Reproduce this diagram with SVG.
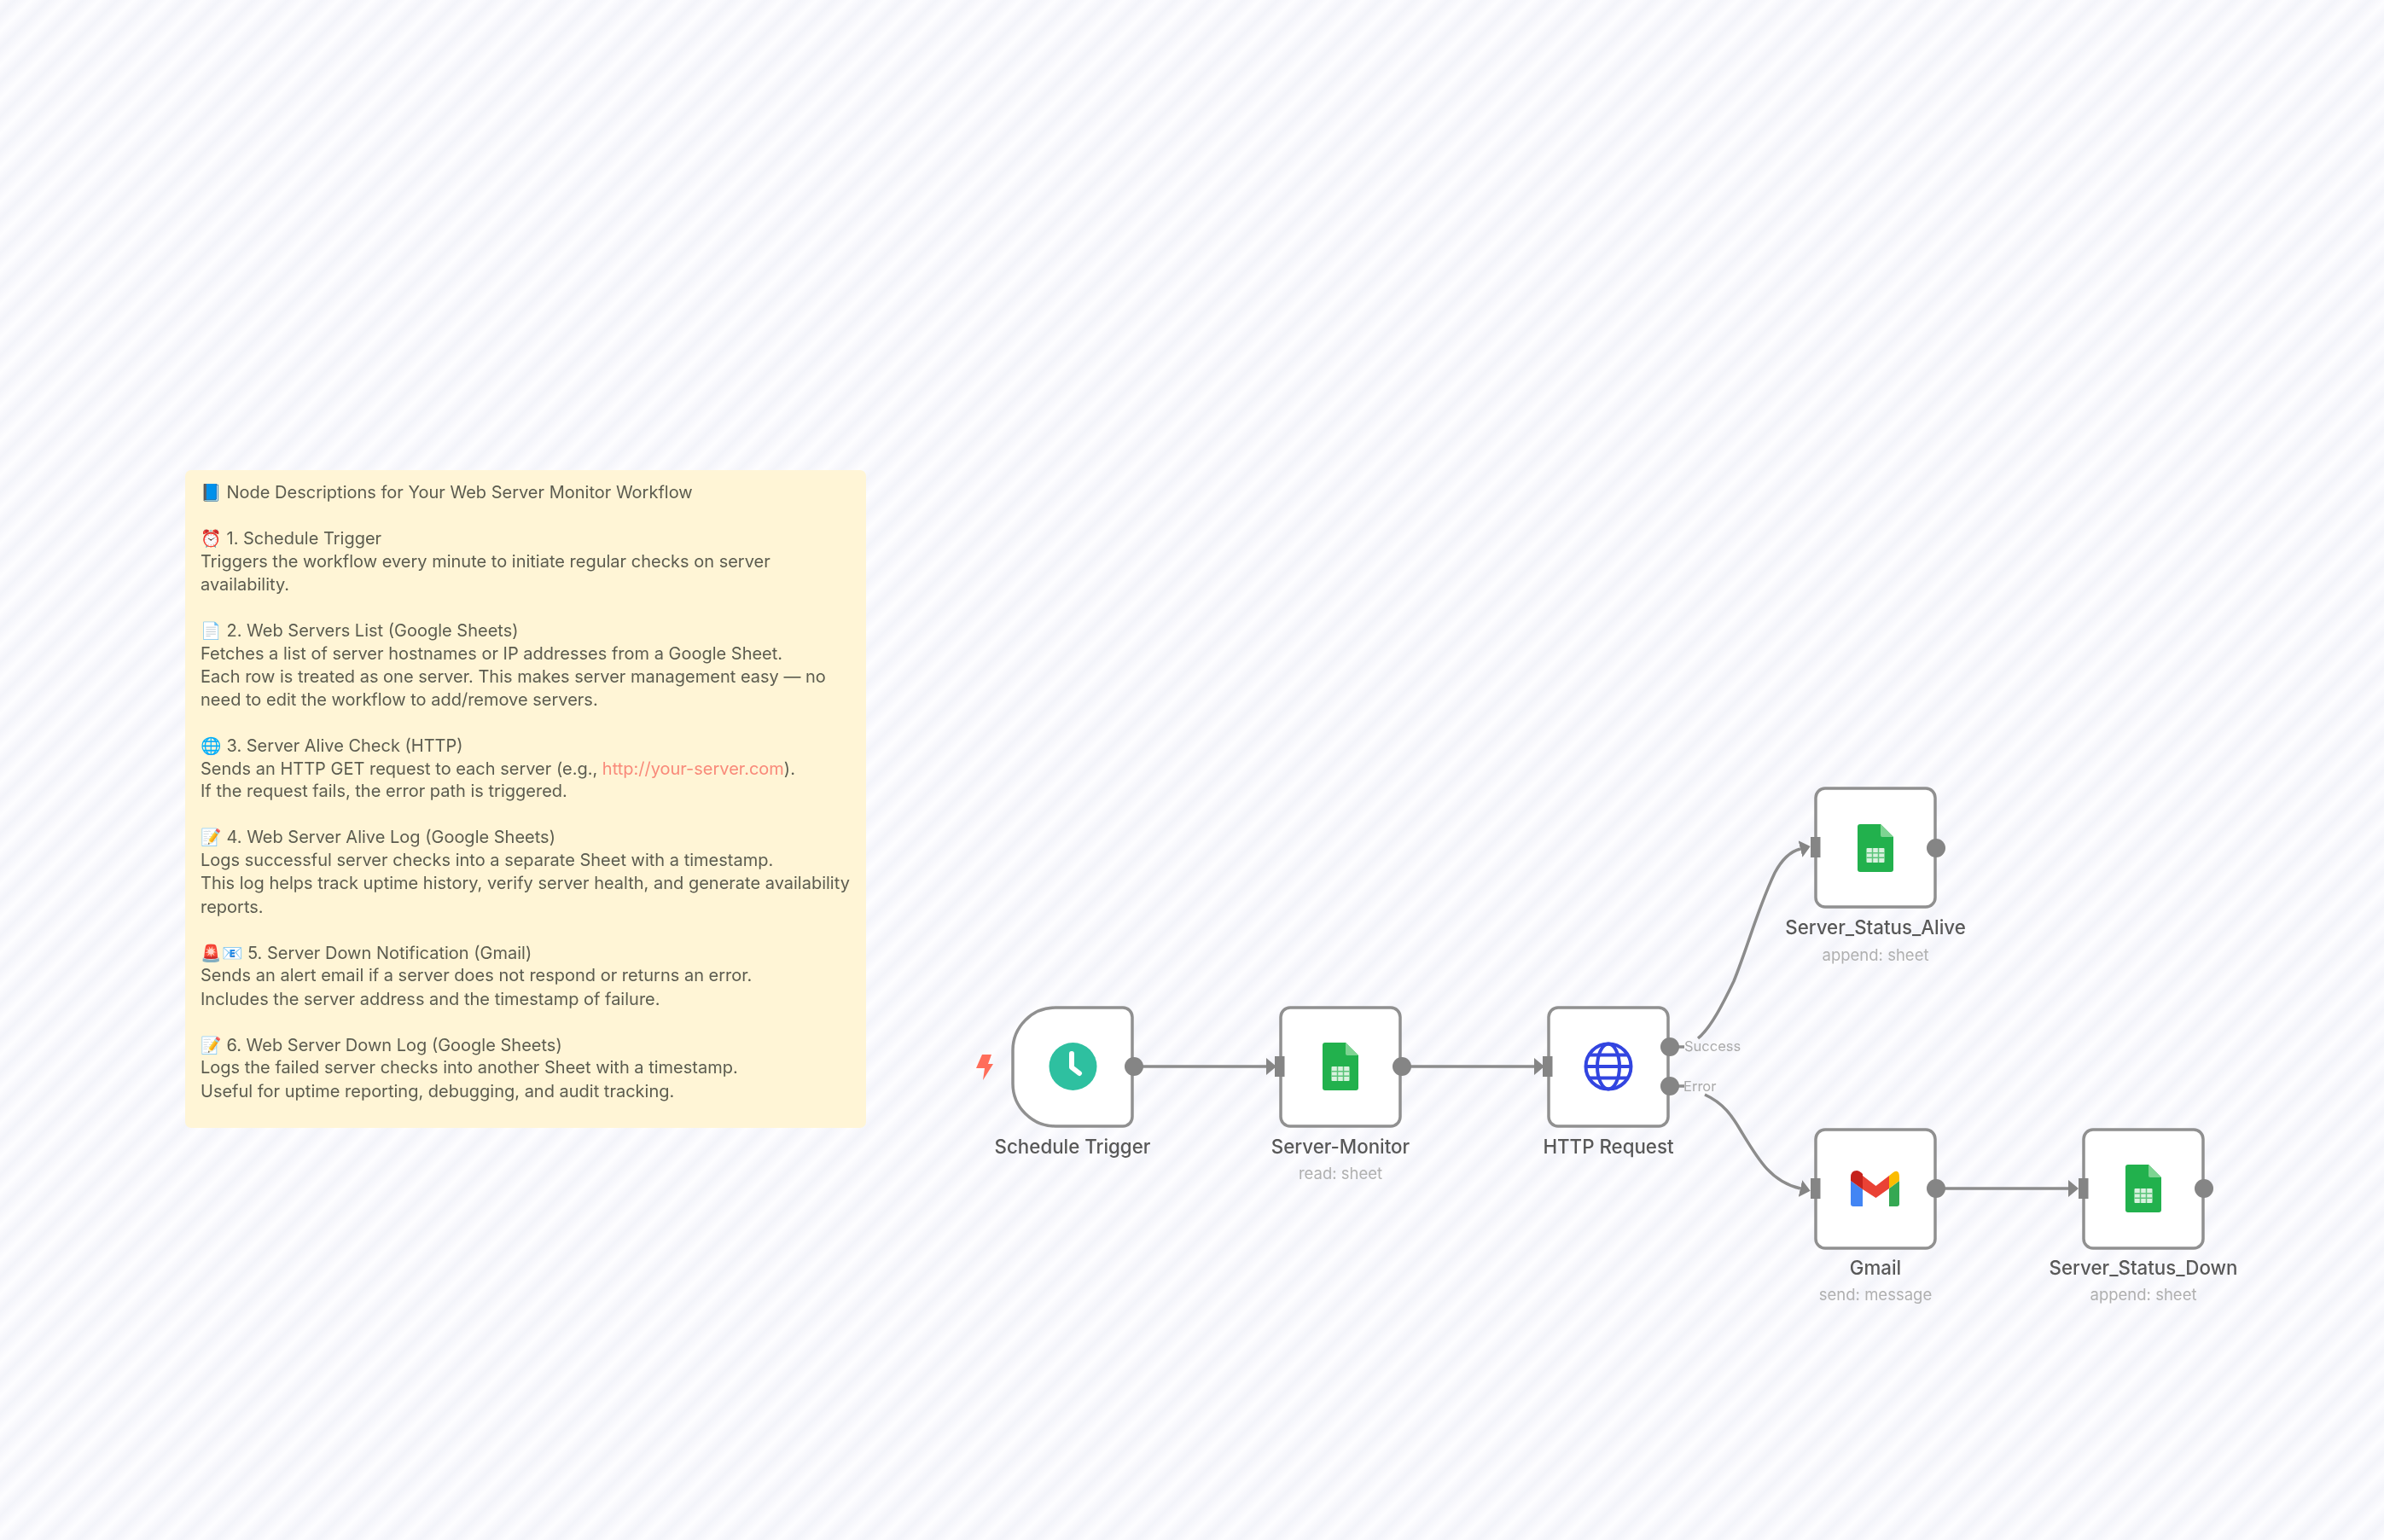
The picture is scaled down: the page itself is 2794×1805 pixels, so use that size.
<svg xmlns="http://www.w3.org/2000/svg" width="2794" height="1805" viewBox="0 0 2794 1805">
<style>
text{font-family:Inter,"Liberation Sans",sans-serif}
.n{font-size:20px;fill:#5c5c50}
.e{font-size:19.6px;font-family:"Noto Color Emoji","DejaVu Sans",sans-serif}
.t{font-size:22.300px;font-weight:500;fill:#585858;text-anchor:middle}
.s{font-size:18.500px;fill:#b0b0b0;text-anchor:middle}
.b{fill:#fff;stroke:#909090;stroke-width:3.500}
.p{fill:#858585}
.c{fill:none;stroke:#8c8c8c;stroke-width:3.500}
.l{font-size:16.500px;fill:#aaa}
.g{fill:#23b14d}
</style>
<defs>
<linearGradient id="st" gradientUnits="userSpaceOnUse" x1="0" y1="17" x2="20" y2="37" spreadMethod="repeat">
<stop offset="0" stop-color="#f3f4fa"/><stop offset=".5" stop-color="#fdfdff"/><stop offset="1" stop-color="#f3f4fa"/>
</linearGradient>
<filter id="soft" filterUnits="userSpaceOnUse" x="0" y="0" width="2794" height="1805"><feGaussianBlur stdDeviation="0.700"/></filter>
<marker id="a" markerUnits="userSpaceOnUse" markerWidth="14" markerHeight="22" refX="0" refY="11" orient="auto"><path d="M0 1L12 11L0 21Z" fill="#858585"/></marker>
<g id="sheet">
<path class="g" d="M3 0H27L42 15V53a3 3 0 0 1-3 3H3a3 3 0 0 1-3-3V3a3 3 0 0 1 3-3Z"/>
<path d="M27 0L42 15H29a2 2 0 0 1-2-2Z" fill="#7ed492"/>
<rect x="10.500" y="28" width="21" height="17" rx="1" fill="#d8f2de"/>
<path d="M10.500 33.700H31.500M10.500 39.300H31.500M17.500 28V45M24.500 28V45" stroke="#5cc47a" stroke-width="1.500" fill="none"/>
</g>
</defs>
<rect width="2794" height="1805" fill="url(#st)"/>
<g filter="url(#soft)">
<g id="note">
<rect x="217" y="551" width="798" height="771" rx="7" fill="#fff5d6"/>
<text class="e" x="235" y="584">📘</text><text class="n" x="265.500" y="584">Node Descriptions for Your Web Server Monitor Workflow</text>
<text class="e" x="235" y="638">⏰</text><text class="n" x="265.500" y="638">1. Schedule Trigger</text>
<text class="n" x="235" y="665">Triggers the workflow every minute to initiate regular checks on server</text>
<text class="n" x="235" y="692">availability.</text>
<text class="e" x="235" y="746">📄</text><text class="n" x="265.500" y="746">2. Web Servers List (Google Sheets)</text>
<text class="n" x="235" y="773">Fetches a list of server hostnames or IP addresses from a Google Sheet.</text>
<text class="n" x="235" y="800">Each row is treated as one server. This makes server management easy — no</text>
<text class="n" x="235" y="827">need to edit the workflow to add/remove servers.</text>
<text class="e" x="235" y="881">🌐</text><text class="n" x="265.500" y="881">3. Server Alive Check (HTTP)</text>
<text class="n" x="235" y="908">Sends an HTTP GET request to each server (e.g., <tspan fill="#f98a7a">http://your-server.com</tspan>).</text>
<text class="n" x="235" y="934">If the request fails, the error path is triggered.</text>
<text class="e" x="235" y="988">📝</text><text class="n" x="265.500" y="988">4. Web Server Alive Log (Google Sheets)</text>
<text class="n" x="235" y="1015">Logs successful server checks into a separate Sheet with a timestamp.</text>
<text class="n" x="235" y="1042">This log helps track uptime history, verify server health, and generate availability</text>
<text class="n" x="235" y="1070">reports.</text>
<text class="e" x="235" y="1124">🚨</text><text class="e" x="260" y="1124">📧</text><text class="n" x="290" y="1124">5. Server Down Notification (Gmail)</text>
<text class="n" x="235" y="1150">Sends an alert email if a server does not respond or returns an error.</text>
<text class="n" x="235" y="1178">Includes the server address and the timestamp of failure.</text>
<text class="e" x="235" y="1232">📝</text><text class="n" x="265.500" y="1232">6. Web Server Down Log (Google Sheets)</text>
<text class="n" x="235" y="1258">Logs the failed server checks into another Sheet with a timestamp.</text>
<text class="n" x="235" y="1286">Useful for uptime reporting, debugging, and audit tracking.</text>
</g>
<g id="connectors">
<path class="c" d="M1329 1250H1484" marker-end="url(#a)"/>
<path class="c" d="M1643 1250H1798" marker-end="url(#a)"/>
<path class="c" d="M1966 1227H1974M1990 1217C2005 1205 2020 1175 2032 1150C2050 1105 2060 1065 2080 1023C2088 1008 2098 998 2110 995" marker-end="url(#a)"/>
<path class="c" d="M1966 1273H1974M1998 1283C2020 1293 2030 1308 2040 1325C2060 1358 2075 1385 2110 1393" marker-end="url(#a)"/>
<path class="c" d="M2269 1393H2424" marker-end="url(#a)"/>
<text class="l" x="1974" y="1232">Success</text>
<text class="l" x="1973" y="1279">Error</text>
</g>
<g id="schedule-trigger">
<path class="b" d="M1237 1181H1316a11 11 0 0 1 11 11V1309a11 11 0 0 1-11 11H1237a50 50 0 0 1-50-50V1231a50 50 0 0 1 50-50Z"/>
<path d="M1151 1236H1162L1158 1247H1164L1152 1266L1154 1252H1144Z" fill="#ff6d5a"/>
<circle cx="1257.500" cy="1250" r="28" fill="#2fc0a0"/>
<path d="M1256 1235V1251L1265 1258" fill="none" stroke="#fff" stroke-width="6" stroke-linecap="round" stroke-linejoin="round"/>
<circle class="p" cx="1329" cy="1250" r="11"/>
<text class="t" x="1257" y="1352">Schedule Trigger</text>
</g>
<g id="server-monitor">
<rect class="b" x="1501" y="1181" width="140" height="139" rx="11"/>
<rect class="p" x="1494" y="1238" width="11.500" height="24"/>
<use href="#sheet" x="1550" y="1222"/>
<circle class="p" cx="1643" cy="1250" r="11"/>
<text class="t" x="1571" y="1352">Server-Monitor</text>
<text class="s" x="1571" y="1382">read: sheet</text>
</g>
<g id="http-request">
<rect class="b" x="1815" y="1181" width="140" height="139" rx="11"/>
<rect class="p" x="1808" y="1238" width="11.500" height="24"/>
<g fill="none" stroke="#3344e0" stroke-width="4">
<circle cx="1885" cy="1250" r="26.500"/><ellipse cx="1885" cy="1250" rx="13" ry="26.500"/>
<path d="M1858.500 1250H1911.500M1862 1236.500H1908M1862 1263.500H1908"/>
</g>
<circle class="p" cx="1957" cy="1227" r="11"/>
<circle class="p" cx="1957" cy="1273" r="11"/>
<text class="t" x="1885" y="1352">HTTP Request</text>
</g>
<g id="server-status-alive">
<rect class="b" x="2128" y="924" width="140" height="139" rx="11"/>
<rect class="p" x="2122" y="981" width="11.500" height="24"/>
<use href="#sheet" x="2177" y="966"/>
<circle class="p" cx="2269" cy="994" r="11"/>
<text class="t" x="2198" y="1095">Server_Status_Alive</text>
<text class="s" x="2198" y="1126">append: sheet</text>
</g>
<g id="gmail">
<rect class="b" x="2128" y="1324" width="140" height="139" rx="11"/>
<rect class="p" x="2122" y="1381" width="11.500" height="24"/>
<path d="M2169 1384L2183 1394V1414H2172a3 3 0 0 1-3-3Z" fill="#4285f4"/>
<path d="M2214 1393L2226 1384V1411a3 3 0 0 1-3 3H2214Z" fill="#34a853"/>
<path d="M2183 1378L2198.500 1390L2214 1378V1393L2198.500 1404L2183 1394Z" fill="#ea4335"/>
<path d="M2169 1380Q2169 1372 2176 1372Q2179 1372 2183 1376V1394L2169 1384Z" fill="#c5221f"/>
<path d="M2214 1378L2219 1374Q2226 1370 2226 1380V1384L2214 1393Z" fill="#fbbc04"/>
<circle class="p" cx="2269" cy="1393" r="11"/>
<text class="t" x="2198" y="1494">Gmail</text>
<text class="s" x="2198" y="1524">send: message</text>
</g>
<g id="server-status-down">
<rect class="b" x="2442" y="1324" width="140" height="139" rx="11"/>
<rect class="p" x="2436" y="1381" width="11.500" height="24"/>
<use href="#sheet" x="2491" y="1365"/>
<circle class="p" cx="2583" cy="1393" r="11"/>
<text class="t" x="2512" y="1494">Server_Status_Down</text>
<text class="s" x="2512" y="1524">append: sheet</text>
</g>
</g>
</svg>
